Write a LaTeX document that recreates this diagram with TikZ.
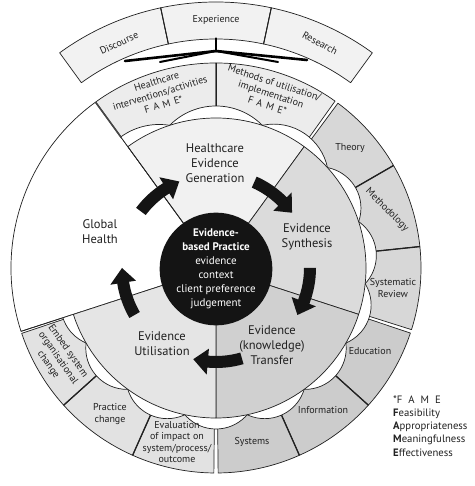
\documentclass[tikz,border=0pt]{standalone}
\usepackage{fontspec}
\setmainfont{PT Sans}
\definecolor{cTop}{gray}{0.95}
\definecolor{cGen}{gray}{0.945}
\definecolor{cGenCell}{gray}{0.925}
\definecolor{cSyn}{gray}{0.86}
\definecolor{cSynCell}{gray}{0.845}
\definecolor{cTra}{gray}{0.815}
\definecolor{cTraCell}{gray}{0.80}
\definecolor{cUti}{gray}{0.90}
\definecolor{cUtiCell}{gray}{0.885}
\definecolor{ink}{gray}{0.13}
\newcommand{\fsMain}{\fontsize{12.5}{15}\selectfont}
\newcommand{\fsCore}{\fontsize{11}{14}\selectfont}
\newcommand{\fsCell}{\fontsize{10}{12}\selectfont}
\newcommand{\fsSmall}{\fontsize{10}{11.5}\selectfont}
\newcommand{\fsLeg}{\fontsize{10.7}{13.2}\selectfont}
\newcommand{\bigArrow}[1]{%
  \pgfmathsetmacro{\arT}{#1+15}%
  \pgfmathsetmacro{\arH}{#1-6}%
  \pgfmathsetmacro{\arP}{#1-15}%
  \fill[arrowfill] (\arT:88) arc[start angle=\arT,end angle=\arH,radius=88]
    -- (\arH:81) -- (\arP:94) -- (\arH:107) -- (\arH:100)
    arc[start angle=\arH,end angle=\arT,radius=100] -- cycle;}
\begin{document}
\begin{tikzpicture}[x=1pt,y=1pt,line join=round,
  edge/.style={draw=ink,line width=0.7pt},
  divider/.style={draw=ink,line width=1.3pt},
  scallop/.style={draw=ink,line width=0.7pt,fill=white},
  lbl/.style={align=center,inner sep=0pt,text=ink},
  mainlbl/.style={lbl,font=\fsMain},
  celllbl/.style={lbl,font=\fsCell},
  arrowfill/.style={fill=black!92},
  branch/.style={draw=black,line width=2.6pt,line cap=round}]
\def\rone{150}
\def\Rout{205}
\useasboundingbox (-216,-218) rectangle (258,268);
\fill[white] (-216,-218) rectangle (258,268);

% Global Health sector
\draw[edge,fill=white] (0,0) -- (126:\Rout) arc[start angle=126,end angle=198,radius=\Rout] -- cycle;

% outer ring cells
\foreach \angA/\angB/\colr in {125.9/90/cGenCell,90/54.5/cGenCell,53.5/30/cSynCell,30/6/cSynCell,6/-17.5/cSynCell,-18.5/-42/cTraCell,-42/-66/cTraCell,-66/-89.4/cTraCell,-90.6/-114/cUtiCell,-114/-138/cUtiCell,-138/-161.4/cUtiCell}
  \draw[edge,fill=\colr] (\angA:\rone) arc[start angle=\angA,end angle=\angB,radius=\rone] -- (\angB:\Rout) arc[start angle=\angB,end angle=\angA,radius=\Rout] -- cycle;
\foreach \angA in {30,6,-42,-66,-114,-138}
  \draw[divider] (\angA:\rone) -- (\angA:\Rout);
\draw[edge] (90:\rone) -- (90:\Rout);

% scallops
\begin{scope}
\clip (0,0) -- (126:210) arc[start angle=126,end angle=-162,radius=210] -- cycle;
\foreach \sa/\sb/\sd in {144/108/12,108/72/12,72/42/11,42/18/11,18/-6/11,-6/-30/11,-30/-54/11,-54/-78/11,-78/-102/11,-102/-126/11,-126/-150/11,-150/-174/11}{
  \pgfmathsetmacro{\scHalf}{abs(\sa-\sb)/2}
  \pgfmathsetmacro{\scMid}{(\sa+\sb)/2}
  \pgfmathsetmacro{\scH}{\rone*sin(\scHalf)}
  \pgfmathsetmacro{\scS}{\rone+\sd-\rone*cos(\scHalf)}
  \pgfmathsetmacro{\scR}{(\scH*\scH+\scS*\scS)/(2*\scS)}
  \pgfmathsetmacro{\scC}{\rone+\sd-\scR}
  \draw[scallop] (\scMid:\scC) circle[radius=\scR];
}
\end{scope}

% inner sectors
\foreach \angA/\angB/\colr in {126/54/cGen,54/-18/cSyn,-18/-90/cTra,-90/-162/cUti}
  \draw[edge,fill=\colr] (0,0) -- (\angA:\rone) arc[start angle=\angA,end angle=\angB,radius=\rone] -- cycle;
\draw[edge] (0,0) -- (126:162);
\draw[draw=gray!55!black,line width=1.6pt] (126:161) -- (126:\Rout);
\draw[edge] (198:\rone) -- (198:\Rout);

% centre
\node[circle,fill=black!92,minimum size=100pt,inner sep=0pt,text=white,align=center,font=\fsCore] (ebp) at (0,-1)
  {\textbf{Evidence-}\\\textbf{based Practice}\\evidence\\context\\client preference\\judgement};

% arrows
\bigArrow{128}
\bigArrow{51}
\bigArrow{-15}
\bigArrow{-89}
\bigArrow{195}

% top band
\foreach \angA/\angB in {126/102,102/78,78/54}
  \draw[edge,fill=cTop] (\angA:229) arc[start angle=\angA,end angle=\angB,radius=229] -- (\angB:266) arc[start angle=\angB,end angle=\angA,radius=266] -- cycle;
\foreach \angA in {102,78}
  \draw[draw=ink,line width=1pt] (\angA:229) -- (\angA:266);

% branches
\coordinate (trunk) at (90:229.5);
\coordinate (fork) at (0,217);
\coordinate (lfar) at (-91,207);
\coordinate (lnear) at (-56,206);
\coordinate (rfar) at (91,208);
\coordinate (rnear) at (62,206);
\draw[branch] (trunk) -- (fork);
\draw[branch] (fork) -- (lfar);
\draw[branch,line width=2pt] (fork) -- (lnear);
\draw[branch] (fork) -- (rfar);
\draw[branch,line width=2pt] (fork) -- (rnear);

% labels
\node[mainlbl] (gen) at (-1,105) {Healthcare\\Evidence\\Generation};
\node[mainlbl] (syn) at (91,31) {Evidence\\Synthesis};
\node[mainlbl] (tra) at (56,-77) {Evidence\\(knowledge)\\Transfer};
\node[mainlbl] (uti) at (-54,-76) {Evidence\\Utilisation};
\node[mainlbl] (glob) at (-116,36) {Global\\Health};

\node[celllbl] (theory) at (134,120) {Theory};
\node[celllbl,rotate=-45] (meth) at (171,58) {Methodology};
\node[celllbl] (sysrev) at (177,-20) {Systematic\\Review};
\node[celllbl] (educ) at (154,-83) {Education};
\node[celllbl] (info) at (107,-142) {Information};
\node[celllbl] (systems) at (36,-174) {Systems};
\node[lbl,font=\fsSmall] (evalu) at (-39,-174) {Evaluation\\of impact on\\system/process/\\outcome};
\node[celllbl] (pract) at (-106,-146) {Practice\\change};
\node[celllbl,rotate=-55] (embed) at (-158,-90) {Embed system\\organisational\\change};
\node[celllbl,rotate=25] (disc) at (-97,225) {Discourse};
\node[celllbl] (exper) at (0,248) {Experience};
\node[celllbl,rotate=-28] (resea) at (104,225) {Research};
\node[celllbl,rotate=17] (hcint) at (-56,175) {Healthcare\\interventions/activities\\F\hspace{4pt}A\hspace{4pt}M\hspace{4pt}E*};
\node[celllbl,rotate=-18] (methu) at (55,174) {Methods of utilisation/\\implementation\\F\hspace{4pt}A\hspace{4pt}M\hspace{4pt}E*};

% legend
\node[lbl,align=left,anchor=west,font=\fsLeg] (legend) at (177,-158)
  {*F\hspace{6pt}A\hspace{6pt}M\hspace{6pt}E\\\textbf{F}easibility\\\textbf{A}ppropriateness\\\textbf{M}eaningfulness\\\textbf{E}ffectiveness};
\end{tikzpicture}
\end{document}
